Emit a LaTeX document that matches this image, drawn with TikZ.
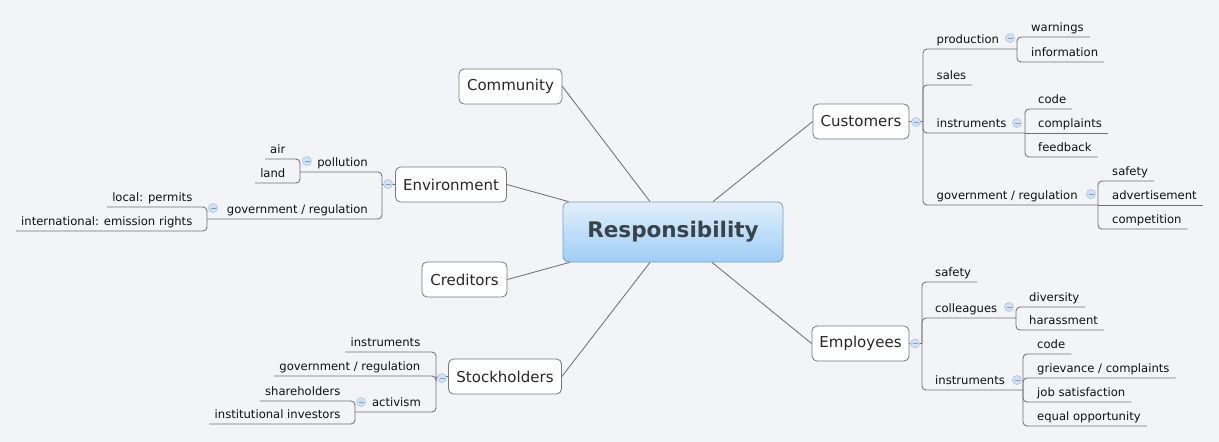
\documentclass[tikz,border=0pt]{standalone}
\usepackage{fontspec}
\setmainfont{DejaVu Sans}
\definecolor{bg}{RGB}{243,244,247}
\definecolor{lin}{RGB}{112,112,112}
\definecolor{boxline}{RGB}{120,120,120}
\definecolor{txt}{RGB}{15,15,15}
\definecolor{ctop}{RGB}{226,239,252}
\definecolor{cbot}{RGB}{158,205,246}
\definecolor{cborder}{RGB}{120,160,200}
\definecolor{ctext}{RGB}{58,66,74}
\definecolor{knobfill}{RGB}{210,225,245}
\definecolor{knobline}{RGB}{165,190,225}
\definecolor{knobminus}{RGB}{130,160,205}
\begin{document}
\begin{tikzpicture}[x=1pt,y=-1pt,
  central/.style={draw=cborder, rounded corners=6pt, top color=ctop, bottom color=cbot, minimum width=220pt, minimum height=60pt, font=\fontsize{21.5}{24}\selectfont\bfseries, text=ctext, line width=0.8pt},
  topic/.style={draw=boxline, fill=white, rounded corners=5pt, minimum height=35pt, font=\fontsize{15}{18}\selectfont, text=black!85, line width=0.8pt, inner xsep=0pt},
  subR/.style={anchor=base west, inner sep=0pt, font=\fontsize{11.6}{14}\selectfont, text=txt},
  subL/.style={anchor=base east, inner sep=0pt, font=\fontsize{11.6}{14}\selectfont, text=txt},
  conn/.style={draw=lin, line width=0.85pt},
  bracket/.style={draw=lin, line width=0.85pt, rounded corners=4pt},
  knob/.style={circle, fill=knobfill, draw=knobline, line width=0.5pt, minimum size=9pt, inner sep=0pt,
    path picture={\draw[knobminus, line width=0.8pt] ([xshift=-2.5pt]path picture bounding box.center) -- ([xshift=2.5pt]path picture bounding box.center);}}
]
\useasboundingbox (0,0) rectangle (1219,442);
\fill[bg] (0,0) rectangle (1219,442);

% central and main topics
\node[central] (resp) at (673,232) {Responsibility};
\node[topic, minimum width=103pt] (comm) at (510.5,86.5) {Community};
\node[topic, minimum width=111pt] (env) at (451,184.5) {Environment};
\node[topic, minimum width=85pt] (cred) at (464.5,279.5) {Creditors};
\node[topic, minimum width=113pt] (stock) at (505,376.5) {Stockholders};
\node[topic, minimum width=96pt] (cust) at (861,121.5) {Customers};
\node[topic, minimum width=97pt] (empl) at (860.5,343.5) {Employees};

\draw[conn] (comm.east) -- ([xshift=-23pt]resp.north);
\draw[conn] (env.east) -- ([xshift=6pt]resp.north west);
\draw[conn] (cred.east) -- ([xshift=7pt]resp.south west);
\draw[conn] (stock.east) -- ([xshift=-23pt]resp.south);
\draw[conn] (cust.west) -- ([xshift=40pt]resp.north);
\draw[conn] (empl.west) -- ([xshift=39pt]resp.south);

% ---------------- Customers ----------------
\coordinate (cj) at (923,121.5);
\coordinate (cpj) at (1017,49);
\coordinate (cij) at (1025,133);
\coordinate (cgj) at (1098,205);
\node[subR] (cprod) at (936.5,43.5) {production};
\node[subR] (csales) at (936.5,79.5) {sales};
\node[subR] (cinst) at (936.5,127.5) {instruments};
\node[subR] (cgov) at (936.5,199.5) {government / regulation};
\node[subR] (cwarn) at (1031,31.5) {warnings};
\node[subR] (cinfo) at (1031,56.5) {information};
\node[subR] (ccode) at (1038,103.5) {code};
\node[subR] (ccompl) at (1038,127.5) {complaints};
\node[subR] (cfeed) at (1038,151.5) {feedback};
\node[subR] (csafe) at (1112,175.5) {safety};
\node[subR] (cadv) at (1112,199.5) {advertisement};
\node[subR] (ccomp) at (1112,223.5) {competition};

\draw[conn] (cust.east) -- (cj);
\draw[bracket] (cj) |- (cpj);
\draw[bracket] (cj) |- ([xshift=6pt,yshift=-5.5pt]csales.base east);
\draw[bracket] (cj) |- (cij);
\draw[bracket] (cj) |- (cgj);
\draw[bracket] (cpj) |- ([xshift=6pt,yshift=-5.5pt]cwarn.base east);
\draw[bracket] (cpj) |- ([xshift=6pt,yshift=-5.5pt]cinfo.base east);
\draw[bracket] (cij) |- ([xshift=6pt,yshift=-5.5pt]ccode.base east);
\draw[conn] (cij) -- ([xshift=6pt,yshift=-5.5pt]ccompl.base east);
\draw[bracket] (cij) |- ([xshift=6pt,yshift=-5.5pt]cfeed.base east);
\draw[bracket] (cgj) |- ([xshift=6pt,yshift=-5.5pt]csafe.base east);
\draw[conn] (cgj) -- ([xshift=6pt,yshift=-5.5pt]cadv.base east);
\draw[bracket] (cgj) |- ([xshift=6pt,yshift=-5.5pt]ccomp.base east);
\node[knob] (kc) at (916,122) {};
\node[knob] (kcp) at (1010,38) {};
\node[knob] (kci) at (1017,123) {};
\node[knob] (kcg) at (1091,194) {};

% ---------------- Employees ----------------
\coordinate (ej) at (922,343.5);
\coordinate (ecj) at (1016,318);
\coordinate (eij) at (1023,390);
\node[subR] (esafe) at (935,276.5) {safety};
\node[subR] (ecoll) at (935,312.5) {colleagues};
\node[subR] (einst) at (935,384.5) {instruments};
\node[subR] (ediv) at (1029,301.5) {diversity};
\node[subR] (ehar) at (1029,324.5) {harassment};
\node[subR] (ecode) at (1037,348.5) {code};
\node[subR] (egriev) at (1037,372.5) {grievance / complaints};
\node[subR] (ejob) at (1037,396.5) {job satisfaction};
\node[subR] (eeq) at (1037,420.5) {equal opportunity};

\draw[conn] (empl.east) -- (ej);
\draw[bracket] (ej) |- ([xshift=6pt,yshift=-5.5pt]esafe.base east);
\draw[bracket] (ej) |- (ecj);
\draw[bracket] (ej) |- (eij);
\draw[bracket] (ecj) |- ([xshift=6pt,yshift=-5.5pt]ediv.base east);
\draw[bracket] (ecj) |- ([xshift=6pt,yshift=-5.5pt]ehar.base east);
\draw[bracket] (eij) |- ([xshift=6pt,yshift=-5.5pt]ecode.base east);
\draw[bracket] (eij) |- ([xshift=6pt,yshift=-5.5pt]egriev.base east);
\draw[bracket] (eij) |- ([xshift=6pt,yshift=-5.5pt]ejob.base east);
\draw[bracket] (eij) |- ([xshift=6pt,yshift=-5.5pt]eeq.base east);
\node[knob] (ke) at (915,343.5) {};
\node[knob] (kec) at (1009,307) {};
\node[knob] (kei) at (1017,380) {};

% ---------------- Environment ----------------
\coordinate (vj) at (382,184.5);
\coordinate (vpj) at (300,172);
\coordinate (vgj) at (207,219);
\node[subL] (vpoll) at (368,166.5) {pollution};
\node[subL] (vgov) at (368,213.5) {government / regulation};
\node[subL] (vair) at (285.5,153.5) {air};
\node[subL] (vland) at (285.5,177.5) {land};
\node[subL] (vloc) at (192.5,201.5) {local: permits};
\node[subL] (vint) at (192.5,225.5) {international: emission rights};

\draw[conn] (env.west) -- (vj);
\draw[bracket] (vj) |- (vpj);
\draw[bracket] (vj) |- (vgj);
\draw[bracket] (vpj) |- ([xshift=-5pt,yshift=-5.5pt]vair.base west);
\draw[bracket] (vpj) |- ([xshift=-5pt,yshift=-5.5pt]vland.base west);
\draw[bracket] (vgj) |- ([xshift=-5pt,yshift=-5.5pt]vloc.base west);
\draw[bracket] (vgj) |- ([xshift=-5pt,yshift=-5.5pt]vint.base west);
\node[knob] (kv) at (388,184) {};
\node[knob] (kvp) at (307,161) {};
\node[knob] (kvg) at (213,208) {};

% ---------------- Stockholders ----------------
\coordinate (sj) at (436,377);
\coordinate (saj) at (355,412);
\node[subL] (sinst) at (420.5,346.5) {instruments};
\node[subL] (sgov) at (420.5,370.5) {government / regulation};
\node[subL] (sact) at (421,406.5) {activism};
\node[subL] (ssh) at (340.5,395.5) {shareholders};
\node[subL] (sinv) at (340.5,418.5) {institutional investors};

\draw[conn] (stock.west) -- (sj);
\draw[bracket] (sj) |- ([xshift=-5pt,yshift=-5.5pt]sinst.base west);
\draw[bracket] (sj) |- ([xshift=-5pt,yshift=-5.5pt]sgov.base west);
\draw[bracket] (sj) |- (saj);
\draw[bracket] (saj) |- ([xshift=-5pt,yshift=-5.5pt]ssh.base west);
\draw[bracket] (saj) |- ([xshift=-5pt,yshift=-5.5pt]sinv.base west);
\node[knob] (ks) at (442,378) {};
\node[knob] (ksa) at (361,402) {};
\end{tikzpicture}
\end{document}
